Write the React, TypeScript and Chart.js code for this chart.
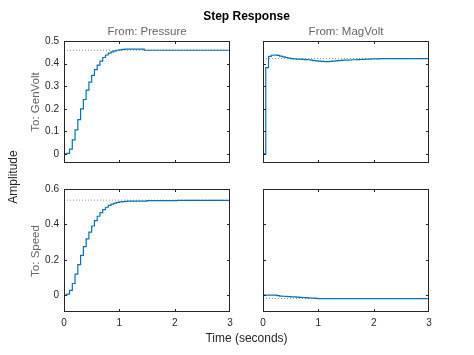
import React, { useEffect, useRef } from 'react';
import { Chart, registerables } from 'chart.js';

Chart.register(...registerables);

const FONT = '"Liberation Sans", Arial, Helvetica, sans-serif';

// Sample times (s), Ts = 0.05
const timeSec = [
  0, 0.05, 0.1, 0.15, 0.2, 0.25, 0.3, 0.35, 0.4, 0.45,
  0.5, 0.55, 0.6, 0.65, 0.7, 0.75, 0.8, 0.85, 0.9, 0.95,
  1, 1.05, 1.1, 1.15, 1.2, 1.25, 1.3, 1.35, 1.4, 1.45,
  1.5, 1.55, 1.6, 1.65, 1.7, 1.75, 1.8, 1.85, 1.9, 1.95,
  2, 2.05, 2.1, 2.15, 2.2, 2.25, 2.3, 2.35, 2.4, 2.45,
  2.5, 2.55, 2.6, 2.65, 2.7, 2.75, 2.8, 2.85, 2.9, 2.95, 3,
];

const inputNames = ['Pressure', 'MagVolt'];
const outputNames = ['GenVolt', 'Speed'];

const xTicks = [0, 1, 2, 3];
const yTicksGenVolt = [0, 0.1, 0.2, 0.3, 0.4, 0.5];
const yTicksSpeed = [0, 0.2, 0.4, 0.6];

// GenVolt <- Pressure
const genVoltFromPressure = [
  0, 0.003, 0.021, 0.062, 0.107, 0.152, 0.2, 0.241, 0.283, 0.318,
  0.348, 0.373, 0.393, 0.411, 0.427, 0.438, 0.446, 0.452, 0.456, 0.459,
  0.461, 0.463, 0.464, 0.464, 0.464, 0.464, 0.464, 0.464, 0.464, 0.459,
  0.459, 0.459, 0.459, 0.459, 0.459, 0.459, 0.459, 0.459, 0.459, 0.459,
  0.459, 0.459, 0.459, 0.459, 0.459, 0.459, 0.459, 0.459, 0.459, 0.459,
  0.459, 0.459, 0.459, 0.459, 0.459, 0.459, 0.459, 0.459, 0.459, 0.459, 0.459,
];
// GenVolt <- MagVolt
const genVoltFromMagVolt = [
  0, 0.382, 0.432, 0.437, 0.438, 0.436, 0.433, 0.43, 0.427, 0.424,
  0.422, 0.421, 0.42, 0.42, 0.419, 0.418, 0.417, 0.415, 0.413, 0.412,
  0.411, 0.41, 0.409, 0.409, 0.41, 0.411, 0.412, 0.413, 0.414, 0.415,
  0.415, 0.416, 0.417, 0.417, 0.418, 0.419, 0.419, 0.42, 0.42, 0.421,
  0.421, 0.421, 0.422, 0.422, 0.422, 0.422, 0.422, 0.422, 0.422, 0.422,
  0.422, 0.422, 0.422, 0.422, 0.422, 0.422, 0.422, 0.422, 0.422, 0.422, 0.422,
];
// Speed <- Pressure
const speedFromPressure = [
  0, 0.006, 0.027, 0.066, 0.119, 0.173, 0.225, 0.274, 0.318, 0.356,
  0.391, 0.421, 0.446, 0.467, 0.484, 0.497, 0.507, 0.515, 0.52, 0.524,
  0.527, 0.529, 0.53, 0.531, 0.532, 0.532, 0.532, 0.532, 0.532, 0.532,
  0.534, 0.534, 0.534, 0.534, 0.534, 0.534, 0.534, 0.534, 0.534, 0.534,
  0.534, 0.536, 0.536, 0.536, 0.536, 0.536, 0.536, 0.536, 0.536, 0.536,
  0.536, 0.536, 0.536, 0.536, 0.536, 0.536, 0.536, 0.536, 0.536, 0.536, 0.536,
];
// Speed <- MagVolt
const speedFromMagVolt = [
  0, 0, 0, 0, 0, -0.003, -0.005, -0.006, -0.007, -0.008,
  -0.009, -0.01, -0.011, -0.012, -0.013, -0.014, -0.015, -0.016, -0.017, -0.018,
  -0.019, -0.019, -0.019, -0.019, -0.019, -0.019, -0.019, -0.019, -0.019, -0.019,
  -0.019, -0.019, -0.019, -0.019, -0.019, -0.019, -0.019, -0.019, -0.019, -0.019,
  -0.019, -0.019, -0.019, -0.019, -0.019, -0.019, -0.019, -0.019, -0.019, -0.019,
  -0.019, -0.019, -0.019, -0.019, -0.019, -0.019, -0.019, -0.019, -0.019, -0.019, -0.019,
];

// Steady-state values (dotted lines)
const finalGenVoltPressure = 0.459;
const finalGenVoltMagVolt = 0.422;
const finalSpeedPressure = 0.537;
const finalSpeedMagVolt = -0.019;

const yRangeGenVolt = [-0.04, 0.5];
const yRangeSpeed = [-0.095, 0.6];
const xRange = [0, 3];

const W = 474;
const H = 355;

const framePlugin = {
  id: 'frameTicks',
  afterDraw(chart: any, _args: any, opts: any) {
    const { ctx, chartArea } = chart;
    const xs = chart.scales.x;
    const ys = chart.scales.y;
    const l = Math.round(chartArea.left) + 0.5;
    const r = Math.round(chartArea.right) - 0.5;
    const t = Math.round(chartArea.top) + 0.5;
    const b = Math.round(chartArea.bottom) - 0.5;
    const tl = 2.5;
    ctx.save();
    ctx.strokeStyle = '#262626';
    ctx.lineWidth = 1;
    ctx.beginPath();
    (opts.x || []).forEach((v: number) => {
      const px = Math.round(xs.getPixelForValue(v)) + 0.5;
      if (px <= l + 1 || px >= r - 1) return;
      ctx.moveTo(px, b);
      ctx.lineTo(px, b - tl);
      ctx.moveTo(px, t);
      ctx.lineTo(px, t + tl);
    });
    (opts.y || []).forEach((v: number) => {
      const py = Math.round(ys.getPixelForValue(v)) + 0.5;
      if (py <= t + 1 || py >= b - 1) return;
      ctx.moveTo(l, py);
      ctx.lineTo(l + tl, py);
      ctx.moveTo(r, py);
      ctx.lineTo(r - tl, py);
    });
    ctx.stroke();
    ctx.strokeRect(l, t, r - l, b - t);
    ctx.restore();
  },
};

type PanelProps = {
  series: number[];
  finalValue: number;
  yRange: number[];
  yTicks: number[];
  rect: { left: number; top: number; right: number; bottom: number };
  showY: boolean;
  showX: boolean;
};

const Y_AXIS_W = 30;
const X_AXIS_H = 20;

function Panel({ series, finalValue, yRange, yTicks, rect, showY, showX }: PanelProps) {
  const ref = useRef<HTMLCanvasElement | null>(null);
  useEffect(() => {
    if (!ref.current) return;
    const tickFont = { family: FONT, size: 10 };
    const yW = showY ? Y_AXIS_W : 0;
    const xH = showX ? X_AXIS_H : 0;
    const chart = new Chart(ref.current, {
      type: 'line',
      data: {
        labels: timeSec,
        datasets: [
          {
            data: series,
            borderColor: '#0072BD',
            borderWidth: 1.2,
            stepped: 'before',
            pointRadius: 0,
            fill: false,
          },
          {
            data: [
              { x: xRange[0], y: finalValue },
              { x: xRange[1], y: finalValue },
            ],
            borderColor: '#8c8c8c',
            borderWidth: 1,
            borderDash: [1, 2],
            pointRadius: 0,
            fill: false,
          },
        ],
      } as any,
      options: {
        responsive: false,
        animation: false,
        events: [],
        layout: {
          padding: {
            left: rect.left - yW,
            top: rect.top,
            right: W - rect.right,
            bottom: H - rect.bottom - xH,
          },
        },
        plugins: {
          legend: { display: false },
          tooltip: { enabled: false },
          frameTicks: { x: xTicks, y: yTicks },
        } as any,
        scales: {
          x: {
            type: 'linear',
            min: xRange[0],
            max: xRange[1],
            display: showX,
            grid: { display: false, drawTicks: false },
            border: { display: false },
            ticks: {
              font: tickFont,
              color: '#262626',
              padding: 5,
              maxRotation: 0,
              autoSkip: false,
              includeBounds: false,
              callback: (v: any) => String(v),
            },
            afterBuildTicks: (s: any) => {
              s.ticks = xTicks.map((v) => ({ value: v }));
            },
            afterFit: (s: any) => {
              s.height = xH;
            },
          },
          y: {
            type: 'linear',
            min: yRange[0],
            max: yRange[1],
            display: showY,
            grid: { display: false, drawTicks: false },
            border: { display: false },
            ticks: {
              font: tickFont,
              color: '#262626',
              padding: 5,
              autoSkip: false,
              includeBounds: false,
              callback: (v: any) => String(v),
            },
            afterBuildTicks: (s: any) => {
              s.ticks = yTicks.map((v) => ({ value: v }));
            },
            afterFit: (s: any) => {
              s.width = yW;
            },
          },
        } as any,
      },
      plugins: [framePlugin],
    } as any);
    return () => chart.destroy();
  }, []);
  return (
    <canvas
      ref={ref}
      width={W}
      height={H}
      style={{ position: 'absolute', left: 0, top: 0, width: W, height: H }}
    />
  );
}

const labelBase: React.CSSProperties = {
  position: 'absolute',
  whiteSpace: 'nowrap',
  fontFamily: FONT,
  lineHeight: 1,
};

function Label({ text, x, y, size, color, bold, rotate }: any) {
  return (
    <div
      style={{
        ...labelBase,
        left: x,
        top: y,
        fontSize: size,
        color,
        fontWeight: bold ? 'bold' : 'normal',
        transform: `translate(-50%, -50%)${rotate ? ' rotate(-90deg)' : ''}`,
      }}
    >
      {text}
    </div>
  );
}

export default function App() {
  const colL = { left: 64, right: 230 };
  const colR = { left: 263, right: 429 };
  const rowT = { top: 41, bottom: 163 };
  const rowB = { top: 189, bottom: 312 };
  return (
    <div
      style={{
        position: 'fixed',
        left: 0,
        top: 0,
        width: W,
        height: H,
        background: '#ffffff',
        overflow: 'hidden',
      }}
    >
      <Panel
        series={genVoltFromPressure}
        finalValue={finalGenVoltPressure}
        yRange={yRangeGenVolt}
        yTicks={yTicksGenVolt}
        rect={{ ...colL, ...rowT }}
        showY={true}
        showX={false}
      />
      <Panel
        series={genVoltFromMagVolt}
        finalValue={finalGenVoltMagVolt}
        yRange={yRangeGenVolt}
        yTicks={yTicksGenVolt}
        rect={{ ...colR, ...rowT }}
        showY={false}
        showX={false}
      />
      <Panel
        series={speedFromPressure}
        finalValue={finalSpeedPressure}
        yRange={yRangeSpeed}
        yTicks={yTicksSpeed}
        rect={{ ...colL, ...rowB }}
        showY={true}
        showX={true}
      />
      <Panel
        series={speedFromMagVolt}
        finalValue={finalSpeedMagVolt}
        yRange={yRangeSpeed}
        yTicks={yTicksSpeed}
        rect={{ ...colR, ...rowB }}
        showY={false}
        showX={true}
      />
      <Label text="Step Response" x={246.5} y={16} size={12} color="#000000" bold />
      <Label text={`From: ${inputNames[0]}`} x={147} y={32} size={11.5} color="#666666" />
      <Label text={`From: ${inputNames[1]}`} x={346} y={32} size={11.5} color="#666666" />
      <Label text={`To: ${outputNames[0]}`} x={35.5} y={102} size={11.5} color="#666666" rotate />
      <Label text={`To: ${outputNames[1]}`} x={36} y={250.5} size={11.5} color="#666666" rotate />
      <Label text="Amplitude" x={13} y={177} size={12} color="#262626" rotate />
      <Label text="Time (seconds)" x={246.5} y={338} size={12} color="#262626" />
    </div>
  );
}
